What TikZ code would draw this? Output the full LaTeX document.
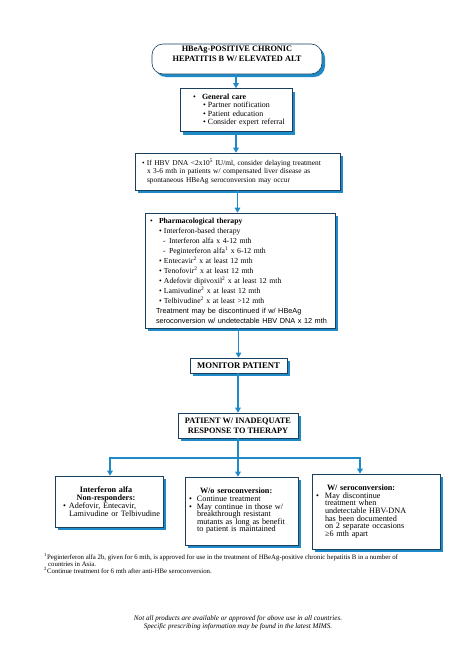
\documentclass[tikz,border=0pt]{standalone}
\usepackage{fontspec}
\setmainfont{Liberation Serif}
\newfontfamily\sansf{Liberation Sans}
\usetikzlibrary{arrows.meta,shadows}
\definecolor{myblue}{HTML}{1E8BC8}
\definecolor{boxline}{HTML}{1B3F5E}
\newcommand{\bl}[2]{\hspace*{#1}\makebox[#2][l]{\textbullet}}
\newcommand{\dl}[2]{\hspace*{#1}\makebox[#2][l]{-}}
\begin{document}
\begin{tikzpicture}[x=1pt,y=-1pt,
 box/.style={draw=boxline, line width=0.6pt, fill=white,
   drop shadow={shadow xshift=3pt, shadow yshift=-3pt, fill=myblue, opacity=1},
   inner ysep=0pt, align=left},
 arr/.style={draw=myblue, line width=1.3pt, -{Triangle[length=5pt,width=5.5pt]}},
 ln/.style={draw=myblue, line width=1.3pt},
 ttl/.style={font=\fontsize{8.3}{9.8}\selectfont\bfseries},
 small/.style={font=\fontsize{8.2}{7.6}\selectfont}
]
\useasboundingbox[fill=white] (0,0) rectangle (474,672);

\node[box, rounded corners=11pt, minimum width=170pt, minimum height=30pt, inner xsep=0pt, align=center, ttl] (top) at (237,59)
 {HBeAg-POSITIVE CHRONIC\\HEPATITIS B W/ ELEVATED ALT\\[1pt]};

\node[box, font=\fontsize{7.9}{8.3}\selectfont, text width=108pt, inner xsep=2pt, minimum height=43pt] (gen) at (236,110)
 {\hspace*{11pt}\makebox[9pt][l]{\textbullet}\textbf{General care}\\
  \bl{21pt}{5pt}Partner notification\\
  \bl{21pt}{5pt}Patient education\\
  \bl{21pt}{5pt}Consider expert referral};

\node[box, font=\fontsize{7.4}{8.3}\selectfont, text width=195pt, inner xsep=5pt, minimum height=37pt] (hbv) at (237.5,171.5)
 {\bl{2pt}{5pt}If HBV DNA <2x10\textsuperscript{5} IU/ml, consider delaying treatment\\
  \hspace*{7pt}x 3-6 mth in patients w/ compensated liver disease as\\
  \hspace*{7pt}spontaneous HBeAg seroconversion may occur};

\node[box, font=\fontsize{7.7}{10}\selectfont, text width=182pt, inner xsep=4pt, minimum height=115pt] (ph) at (240,270.5)
 {\bl{1pt}{9pt}\textbf{Pharmacological therapy}\\
  \bl{10pt}{5pt}Interferon-based therapy\\
  \dl{14pt}{6pt}Interferon alfa x 4-12 mth\\
  \dl{14pt}{6pt}Peginterferon alfa\textsuperscript{1} x 6-12 mth\\
  \bl{10pt}{5pt}Entecavir\textsuperscript{2} x at least 12 mth\\
  \bl{10pt}{5pt}Tenofovir\textsuperscript{2} x at least 12 mth\\
  \bl{10pt}{5pt}Adefovir dipivoxil\textsuperscript{2} x at least 12 mth\\
  \bl{10pt}{5pt}Lamivudine\textsuperscript{2} x at least 12 mth\\
  \bl{10pt}{5pt}Telbivudine\textsuperscript{2} x at least >12 mth\\
  {\sansf\fontsize{7.3}{10}\selectfont\hspace*{7pt}Treatment may be discontinued if w/ HBeAg\\
  \hspace*{7pt}seroconversion w/ undetectable HBV DNA x 12 mth}};

\node[box, font=\fontsize{8.7}{10}\selectfont\bfseries, minimum width=97pt, minimum height=15pt, inner xsep=0pt, align=center] (mon) at (238.5,365.5) {MONITOR PATIENT};

\node[box, ttl, minimum width=120pt, minimum height=25pt, inner xsep=0pt, align=center] (pat) at (238,425.5)
 {PATIENT W/ INADEQUATE\\RESPONSE TO THERAPY};

\node[box, small, text width=102pt, inner xsep=3pt, minimum height=51pt] (lb) at (109,501.5)
 {\makebox[96pt][c]{\textbf{Interferon alfa}}\\
  \makebox[96pt][c]{\textbf{Non-responders:}}\\[1pt]
  \bl{5pt}{6pt}Adefovir, Entecavir,\\
  \hspace*{11pt}Lamivudine or Telbivudine};

\node[box, small, text width=107pt, inner xsep=3pt, minimum height=68pt] (mb) at (241.5,511)
 {\hspace*{12pt}\textbf{W/o seroconversion:}\\
  \bl{1pt}{8pt}Continue treatment\\
  \bl{1pt}{8pt}May continue in those w/\\
  \hspace*{9pt}breakthrough resistant\\
  \hspace*{9pt}mutants as long as benefit\\
  \hspace*{9pt}to patient is maintained\\[6pt]};

\node[box, small, text width=122pt, inner xsep=3pt, minimum height=75pt] (rb) at (376,511.5)
 {\hspace*{12pt}\textbf{W/ seroconversion:}\\
  \bl{1pt}{9pt}May discontinue\\
  \hspace*{10pt}treatment when\\
  \hspace*{10pt}undetectable HBV-DNA\\
  \hspace*{10pt}has been documented\\
  \hspace*{10pt}on 2 separate occasions\\
  \hspace*{10pt}≥6 mth apart\\[6pt]};

\node[anchor=north west, inner sep=0pt, align=left, font=\fontsize{6.8}{7.2}\selectfont] (fn) at (44,553)
 {\textsuperscript{1}Peginterferon alfa 2b, given for 6 mth, is approved for use in the treatment of HBeAg-positive chronic hepatitis B in a number of\\
  \hspace*{4pt}countries in Asia.\\
  \textsuperscript{2}Continue treatment for 6 mth after anti-HBe seroconversion.};

\node[inner sep=0pt, align=center, font=\fontsize{7.1}{8}\selectfont\itshape] (note) at (238,623)
 {Not all products are available or approved for above use in all countries.\\
  Specific prescribing information may be found in the latest MIMS.};

% connectors
\draw[arr] (top.south -| gen.north) -- (gen.north);
\draw[arr] (gen.south) -- (gen.south |- hbv.north);
\draw[arr] (hbv.south -| 237.5,0) -- (237.5,0 |- ph.north);
\draw[arr] (mon.north |- ph.south) -- (mon.north);
\draw[arr] (mon.south -| pat.north) -- (pat.north);
\coordinate (j) at (238,458);
\coordinate (jl) at (110,458);
\coordinate (jr) at (360,458);
\draw[ln] (pat.south) -- (j);
\draw[arr] (j) -- (j |- mb.north);
\draw[arr] (j) -- (jl) -- (jl |- lb.north);
\draw[arr] (j) -- (jr) -- (jr |- rb.north);
\end{tikzpicture}
\end{document}
